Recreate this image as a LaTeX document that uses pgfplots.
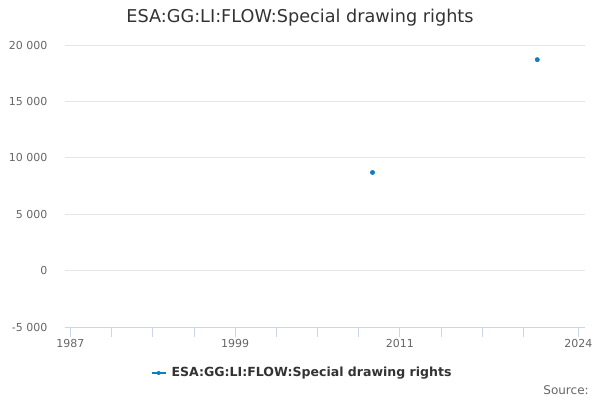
\documentclass[border=0pt]{standalone}
\usepackage{pgfplots}
\pgfplotsset{compat=1.18}
\usepackage{fontspec}
\setmainfont{DejaVu Sans}
\definecolor{ttl}{HTML}{333333}
\definecolor{tick}{HTML}{666666}
\definecolor{axl}{HTML}{CCD6EB}
\definecolor{grd}{HTML}{E6E6E6}
\definecolor{ser}{HTML}{0F7DC2}
\begin{document}
\begin{tikzpicture}
\begin{axis}[
  at={(0,0)}, anchor=south west,
  scale only axis,
  width=390.2pt, height=211.5pt,
  xmin=1986.58, xmax=2024.47,
  ymin=-5000, ymax=20000,
  scaled y ticks=false,
  axis line style={draw=none},
  axis x line*=bottom,
  x axis line style={draw=axl, line width=0.75pt},
  ytick={-5000,0,5000,10000,15000,20000},
  yticklabels={-5\ 000,0,5\ 000,10\ 000,15\ 000,20\ 000},
  ymajorgrids, grid style={draw=grd, line width=0.75pt},
  major y tick style={draw=none},
  xtick={1987,1990,1993,1996,1999,2002,2005,2008,2011,2014,2017,2020,2024},
  xticklabels={1987,{},{},{},1999,{},{},{},2011,{},{},{},2024},
  major x tick style={draw=axl, line width=0.75pt},
  xtick pos=bottom, tick align=outside,
  major tick length=7.5pt,
  x tick label style={font=\fontsize{8.25}{9}\selectfont, text=tick, yshift=2pt},
  y tick label style={font=\fontsize{8.25}{9}\selectfont, text=tick, xshift=-2pt},
  clip=false,
]
\addplot[only marks, mark=*, mark size=1.6pt, color=ser] coordinates {
  (2009,8700) (2021,18700)
};
\end{axis}
\path[use as bounding box] (-48.5pt,-54.75pt) rectangle (401.5pt,245.25pt);
\node[text=ttl, font=\fontsize{13.25}{15}\selectfont] at (176.5pt,231.75pt) {ESA:GG:LI:FLOW:Special drawing rights};
\draw[ser, line width=1.5pt] (65.3pt,-34.5pt) -- (75.8pt,-34.5pt);
\fill[ser] (70.5pt,-34.5pt) circle (1.5pt);
\node[anchor=west, text=ttl, font=\bfseries\fontsize{9.4}{11}\selectfont, inner sep=0pt] at (80pt,-34.5pt) {ESA:GG:LI:FLOW:Special drawing rights};
\node[anchor=east, text=tick, font=\fontsize{9}{11}\selectfont, inner sep=0pt] at (393.2pt,-47.25pt) {Source:};
\end{tikzpicture}
\end{document}
